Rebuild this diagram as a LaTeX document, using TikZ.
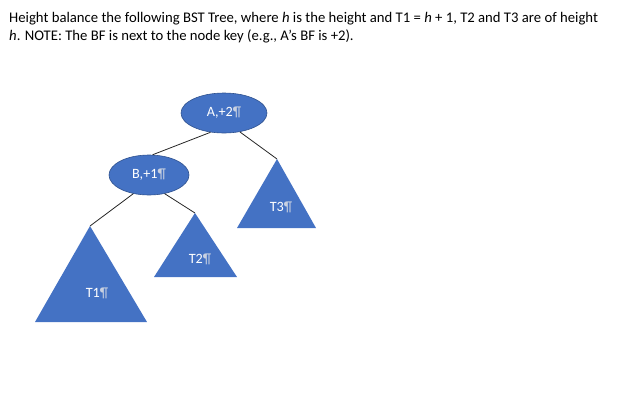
\documentclass[tikz,border=0pt]{standalone}
\usepackage{fontspec}
\setmainfont{Carlito}
\usetikzlibrary{shapes.geometric}
\definecolor{obl}{HTML}{4472C4}
\definecolor{obd}{HTML}{2F528F}
\definecolor{pil}{HTML}{C8D0E0}
\newcommand{\pil}{{\color{pil}¶}}
\tikzset{
  keynode/.style={ellipse, fill=obl, draw=obd, line width=0.6pt, text=white, font=\fontsize{14.2}{16}\selectfont, inner sep=0pt},
  edge/.style={draw=black!85, line width=0.8pt},
  tlabel/.style={text=white, font=\fontsize{14.2}{16}\selectfont},
  hdrline/.style={anchor=base west, inner sep=0pt, font=\fontsize{14.7}{18}\selectfont},
}
\begin{document}
\begin{tikzpicture}[x=1pt,y=-1pt]
\useasboundingbox (0,0) rectangle (640,416);
\node[hdrline] (hdr1) at (9,22)
  {Height balance the following BST Tree, where \textit{h} is the height and T1 = \textit{h} + 1, T2 and T3 are of height};
\node[hdrline] (hdr2) at (9,40)
  {\textit{h}. NOTE: The BF is next to the node key (e.g., A’s BF is +2).};
% triangles
\coordinate (t1a) at (90,226);
\coordinate (t2a) at (195,213);
\coordinate (t3a) at (277,159);
\fill[obl] (t1a) -- (147,322) -- (35,322) -- cycle;
\fill[obl] (t2a) -- (237,277) -- (154,277) -- cycle;
\fill[obl] (t3a) -- (316,228) -- (237,228) -- cycle;
\node[tlabel] (t1) at (97,293) {T1\pil};
\node[tlabel] (t2) at (200,259) {T2\pil};
\node[tlabel] (t3) at (281,207) {T3\pil};
% ellipses
\node[keynode, minimum width=86pt, minimum height=40pt] (A) at (224,113) {A,+2\pil};
\node[keynode, minimum width=80pt, minimum height=40pt] (B) at (149,175) {B,+1\pil};
% edges
\draw[edge] (A.235) -- (B.80);
\draw[edge] (A.-50) -- (t3a);
\draw[edge] (B.-130) -- (t1a);
\draw[edge] (B.-50) -- (t2a);
\end{tikzpicture}
\end{document}
